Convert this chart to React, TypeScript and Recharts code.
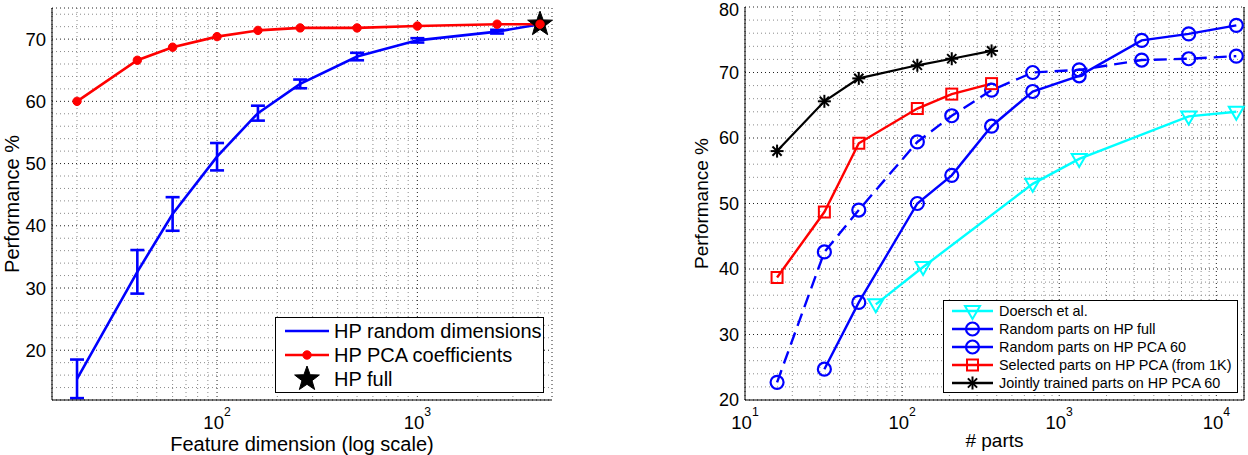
import React from 'react';
import {
  ComposedChart,
  Line,
  Scatter,
  XAxis,
  YAxis,
  CartesianGrid,
  ErrorBar,
  Legend,
  Label,
} from 'recharts';

const FONT = '"Liberation Sans", Arial, Helvetica, sans-serif';
const BLUE = '#0000ff';
const RED = '#ff0000';
const CYAN = '#00ffff';
const BLACK = '#000000';

// ---- left panel: performance vs feature dimension ----
const featDims = [20, 40, 60, 100, 160, 260, 500, 1000, 2500, 4096];
const pcaCoeffPerf = [60.0, 66.6, 68.7, 70.4, 71.4, 71.8, 71.8, 72.1, 72.4, 72.4];
const randomDimPerf = [15.4, 32.6, 41.9, 51.1, 58.1, 62.8, 67.2, 69.8, 71.2, 72.4];
const randomDimErr = [3.1, 3.5, 2.7, 2.2, 1.2, 0.7, 0.6, 0.35, 0.3, 0];
const hpFullDim = [4096];
const hpFullPerf = [72.4];

const leftXTicks = [100, 1000];
const leftYTicks = [20, 30, 40, 50, 60, 70];
const leftXMinor = [20, 30, 40, 50, 60, 70, 80, 90, 200, 300, 400, 500, 600, 700, 800, 900, 2000, 3000, 4000];
const leftYMinor = [14, 16, 18, 22, 24, 26, 28, 32, 34, 36, 38, 42, 44, 46, 48, 52, 54, 56, 58, 62, 64, 66, 68, 72, 74];

// ---- right panel: performance vs number of parts ----
const doerschParts = [68, 136, 678, 1340, 6670, 13400];
const doerschPerf = [34.6, 40.3, 53.0, 56.8, 63.3, 64.0];
const randFullParts = [32, 53, 125, 207, 371, 678, 1340, 3350, 6670, 13400];
const randFullPerf = [24.7, 34.9, 50.0, 54.3, 61.8, 67.1, 69.5, 74.9, 75.9, 77.2];
const randPcaParts = [16, 32, 53, 125, 207, 371, 678, 1340, 3350, 6670, 13400];
const randPcaPerf = [22.7, 42.6, 49.0, 59.4, 63.4, 67.3, 70.0, 70.4, 71.9, 72.1, 72.5];
const selectedParts = [16, 32, 53, 125, 207, 371];
const selectedPerf = [38.7, 48.7, 59.2, 64.5, 66.7, 68.3];
const jointParts = [16, 32, 53, 125, 207, 371];
const jointPerf = [58.0, 65.6, 69.1, 71.1, 72.1, 73.3];

const rightXTicks = [10, 100, 1000, 10000];
const rightYTicks = [20, 30, 40, 50, 60, 70, 80];
const rightXMinor = [20, 30, 40, 50, 60, 70, 80, 90, 200, 300, 400, 500, 600, 700, 800, 900,
  2000, 3000, 4000, 5000, 6000, 7000, 8000, 9000];
const rightYMinor = [22, 24, 26, 28, 32, 34, 36, 38, 42, 44, 46, 48, 52, 54, 56, 58,
  62, 64, 66, 68, 72, 74, 76, 78];

const toPts = (xs: number[], ys: number[], errs?: number[]) =>
  xs.map((x, i) => ({ x, y: ys[i], err: errs ? errs[i] : 0 }));

// marker drawings (shared by plot and legend)
const drawDot = (cx: number, cy: number, c: string, k?: any) => (
  <circle key={k} cx={cx} cy={cy} r={4.2} fill={c} stroke={c} />
);
const drawCircle = (cx: number, cy: number, c: string, k?: any) => (
  <circle key={k} cx={cx} cy={cy} r={6.5} fill="none" stroke={c} strokeWidth={2.2} />
);
const drawSquare = (cx: number, cy: number, c: string, k?: any) => (
  <rect key={k} x={cx - 5.5} y={cy - 5.5} width={11} height={11} fill="none" stroke={c} strokeWidth={2} />
);
const drawTriangle = (cx: number, cy: number, c: string, k?: any) => (
  <polygon key={k} points={`${cx - 7.5},${cy - 5} ${cx + 7.5},${cy - 5} ${cx},${cy + 8}`}
    fill="none" stroke={c} strokeWidth={2} />
);
const drawAsterisk = (cx: number, cy: number, c: string, k?: any) => {
  const r = 6.5;
  const d = r * 0.707;
  return (
    <g key={k} stroke={c} strokeWidth={2}>
      <line x1={cx - r} y1={cy} x2={cx + r} y2={cy} />
      <line x1={cx} y1={cy - r} x2={cx} y2={cy + r} />
      <line x1={cx - d} y1={cy - d} x2={cx + d} y2={cy + d} />
      <line x1={cx - d} y1={cy + d} x2={cx + d} y2={cy - d} />
    </g>
  );
};
const drawStar = (cx: number, cy: number, c: string, k?: any) => {
  const pts: string[] = [];
  for (let i = 0; i < 10; i++) {
    const r = i % 2 === 0 ? 13 : 5.3;
    const a = -Math.PI / 2 + (i * Math.PI) / 5;
    pts.push(`${cx + r * Math.cos(a)},${cy + r * Math.sin(a)}`);
  }
  return <polygon key={k} points={pts.join(' ')} fill={c} stroke={c} strokeWidth={1} />;
};

const SupTick = ({ x, y, payload, fontSize }: any) => {
  const exp = Math.round(Math.log10(payload.value));
  return (
    <text x={x} y={y + 27} textAnchor="middle" fontFamily={FONT} fontSize={fontSize} fill="#000">
      10
      <tspan dy={-13} fontSize={fontSize * 0.66}>{exp}</tspan>
    </text>
  );
};

// y tick label, kept inside the canvas at the very top
const YTick = ({ x, y, payload, fontSize }: any) => (
  <text x={x} y={Math.max(y, 10)} dy="0.355em" textAnchor="end" fontFamily={FONT}
    fontSize={fontSize} fill="#000">
    {payload.value}
  </text>
);

const YTitle = ({ viewBox, dx, fontSize }: any) => {
  const cx = viewBox.x + dx;
  const cy = viewBox.y + viewBox.height / 2;
  return (
    <text x={cx} y={cy} transform={`rotate(-90 ${cx} ${cy})`} textAnchor="middle"
      fontFamily={FONT} fontSize={fontSize} fill="#000">
      Performance %
    </text>
  );
};

type LegendItem = { label: string; color: string; line: boolean; marker?: any };

const LegendBox = ({ items, width, height, first, step, x1, x2, textX, fontSize }: any) => (
  <div style={{ position: 'relative', width, height, boxSizing: 'border-box', border: '1px solid #000',
    background: '#fff', fontFamily: FONT, fontSize, color: '#000' }}>
    <svg width={width} height={height} style={{ position: 'absolute', left: -1, top: -1 }}>
      {items.map((it: LegendItem, i: number) => {
        const cy = first + i * step;
        return (
          <g key={i}>
            {it.line && <line x1={x1} y1={cy} x2={x2} y2={cy} stroke={it.color} strokeWidth={2.5} />}
            {it.marker && it.marker((x1 + x2) / 2, cy, it.color)}
          </g>
        );
      })}
    </svg>
    {items.map((it: LegendItem, i: number) => (
      <div key={i} style={{ position: 'absolute', left: textX - 1, top: first + i * step - step / 2 - 1,
        height: step, lineHeight: `${step}px`, whiteSpace: 'nowrap' }}>
        {it.label}
      </div>
    ))}
  </div>
);

const leftLegend: LegendItem[] = [
  { label: 'HP random dimensions', color: BLUE, line: true },
  { label: 'HP PCA coefficients', color: RED, line: true, marker: drawDot },
  { label: 'HP full', color: BLACK, line: false, marker: drawStar },
];

const rightLegend: LegendItem[] = [
  { label: 'Doersch et al.', color: CYAN, line: true, marker: drawTriangle },
  { label: 'Random parts on HP full', color: BLUE, line: true, marker: drawCircle },
  { label: 'Random parts on HP PCA 60', color: BLUE, line: true, marker: drawCircle },
  { label: 'Selected parts on HP PCA (from 1K)', color: RED, line: true, marker: drawSquare },
  { label: 'Jointly trained parts on HP PCA 60', color: BLACK, line: true, marker: drawAsterisk },
];

const LeftChart = () => (
  <ComposedChart width={560} height={455} margin={{ top: 8, right: 8, bottom: 0, left: 0 }}>
    <CartesianGrid horizontalValues={leftYMinor} verticalValues={leftXMinor}
      stroke="#8a8a8a" strokeDasharray="1 3" />
    <CartesianGrid stroke="#222" strokeDasharray="1 3" />
    <XAxis type="number" dataKey="x" scale="log" domain={[15, 4700]} ticks={leftXTicks} interval={0}
      height={55} tickLine={false} tickSize={0} axisLine={{ stroke: '#000' }}
      tick={<SupTick fontSize={18.5} />}>
      <Label value="Feature dimension (log scale)" position="insideBottom" offset={4}
        fill="#000" fontSize={20} fontFamily={FONT} />
    </XAxis>
    <YAxis type="number" domain={[12, 75]} ticks={leftYTicks} interval={0} width={52}
      tickLine={false} tickSize={0} tickMargin={6} axisLine={{ stroke: '#000' }}
      tick={<YTick fontSize={18.5} />}>
      <Label content={(p: any) => <YTitle {...p} dx={18.5} fontSize={20} />} />
    </YAxis>
    <Line data={toPts(featDims, randomDimPerf, randomDimErr)} dataKey="y" stroke={BLUE} strokeWidth={2.6}
      dot={false} activeDot={false} isAnimationActive={false}>
      <ErrorBar dataKey="err" direction="y" width={7} stroke={BLUE} strokeWidth={2.6} isAnimationActive={false} />
    </Line>
    <Line data={toPts(featDims, pcaCoeffPerf)} dataKey="y" stroke={RED} strokeWidth={2.6}
      dot={(p: any) => drawDot(p.cx, p.cy, RED, p.index)} activeDot={false} isAnimationActive={false} />
    <Scatter data={toPts(hpFullDim, hpFullPerf)} dataKey="y" isAnimationActive={false}
      shape={(p: any) => drawStar(p.cx, p.cy, BLACK)} />
    <Legend layout="vertical" align="center" verticalAlign="middle"
      wrapperStyle={{ left: 275, top: 317, width: 269, height: 76 }}
      content={() => (
        <LegendBox items={leftLegend} width={269} height={76} first={14} step={24}
          x1={10} x2={54} textX={59} fontSize={20} />
      )} />
  </ComposedChart>
);

const RightChart = () => (
  <ComposedChart width={568} height={455} margin={{ top: 7, right: 3, bottom: 0, left: 0 }}>
    <CartesianGrid horizontalValues={rightYMinor} verticalValues={rightXMinor}
      stroke="#8a8a8a" strokeDasharray="1 3" />
    <CartesianGrid stroke="#222" strokeDasharray="1 3" />
    <XAxis type="number" dataKey="x" scale="log" domain={[10, 15000]} ticks={rightXTicks} interval={0}
      height={55} tickLine={false} tickSize={0} axisLine={{ stroke: '#000' }}
      tick={<SupTick fontSize={18.5} />}>
      <Label value="# parts" position="insideBottom" offset={8}
        fill="#000" fontSize={19} fontFamily={FONT} />
    </XAxis>
    <XAxis xAxisId="top" orientation="top" type="number" dataKey="x" scale="log" domain={[10, 15000]}
      ticks={rightXTicks} height={0} tick={false} tickLine={false} axisLine={{ stroke: '#000' }} />
    <YAxis type="number" domain={[20, 80]} ticks={rightYTicks} interval={0} width={65}
      tickLine={false} tickSize={0} tickMargin={6} axisLine={{ stroke: '#000' }}
      tick={<YTick fontSize={18} />}>
      <Label content={(p: any) => <YTitle {...p} dx={28} fontSize={19} />} />
    </YAxis>
    <YAxis yAxisId="right" orientation="right" type="number" domain={[20, 80]} ticks={rightYTicks}
      width={1} tick={false} tickLine={false} axisLine={{ stroke: '#000' }} />
    <Line data={toPts(doerschParts, doerschPerf)} dataKey="y" stroke={CYAN} strokeWidth={2.4}
      dot={(p: any) => drawTriangle(p.cx, p.cy, CYAN, p.index)} activeDot={false} isAnimationActive={false} />
    <Line data={toPts(randFullParts, randFullPerf)} dataKey="y" stroke={BLUE} strokeWidth={2.4}
      dot={(p: any) => drawCircle(p.cx, p.cy, BLUE, p.index)} activeDot={false} isAnimationActive={false} />
    <Line data={toPts(randPcaParts, randPcaPerf)} dataKey="y" stroke={BLUE} strokeWidth={2.4}
      strokeDasharray="13 7"
      dot={(p: any) => drawCircle(p.cx, p.cy, BLUE, p.index)} activeDot={false} isAnimationActive={false} />
    <Line data={toPts(selectedParts, selectedPerf)} dataKey="y" stroke={RED} strokeWidth={2.4}
      dot={(p: any) => drawSquare(p.cx, p.cy, RED, p.index)} activeDot={false} isAnimationActive={false} />
    <Line data={toPts(jointParts, jointPerf)} dataKey="y" stroke={BLACK} strokeWidth={2.2}
      dot={(p: any) => drawAsterisk(p.cx, p.cy, BLACK, p.index)} activeDot={false} isAnimationActive={false} />
    <Legend layout="vertical" align="center" verticalAlign="middle"
      wrapperStyle={{ left: 263, top: 300, width: 295, height: 93 }}
      content={() => (
        <LegendBox items={rightLegend} width={295} height={93} first={11} step={18}
          x1={9} x2={50} textX={56} fontSize={14.4} />
      )} />
  </ComposedChart>
);

export default function App() {
  return (
    <div style={{ position: 'absolute', left: 0, top: 0, width: 1248, height: 455,
      background: '#fff', fontFamily: FONT }}>
      <div style={{ position: 'absolute', left: 0, top: 0 }}>
        <LeftChart />
      </div>
      <div style={{ position: 'absolute', left: 680, top: 0 }}>
        <RightChart />
      </div>
    </div>
  );
}
